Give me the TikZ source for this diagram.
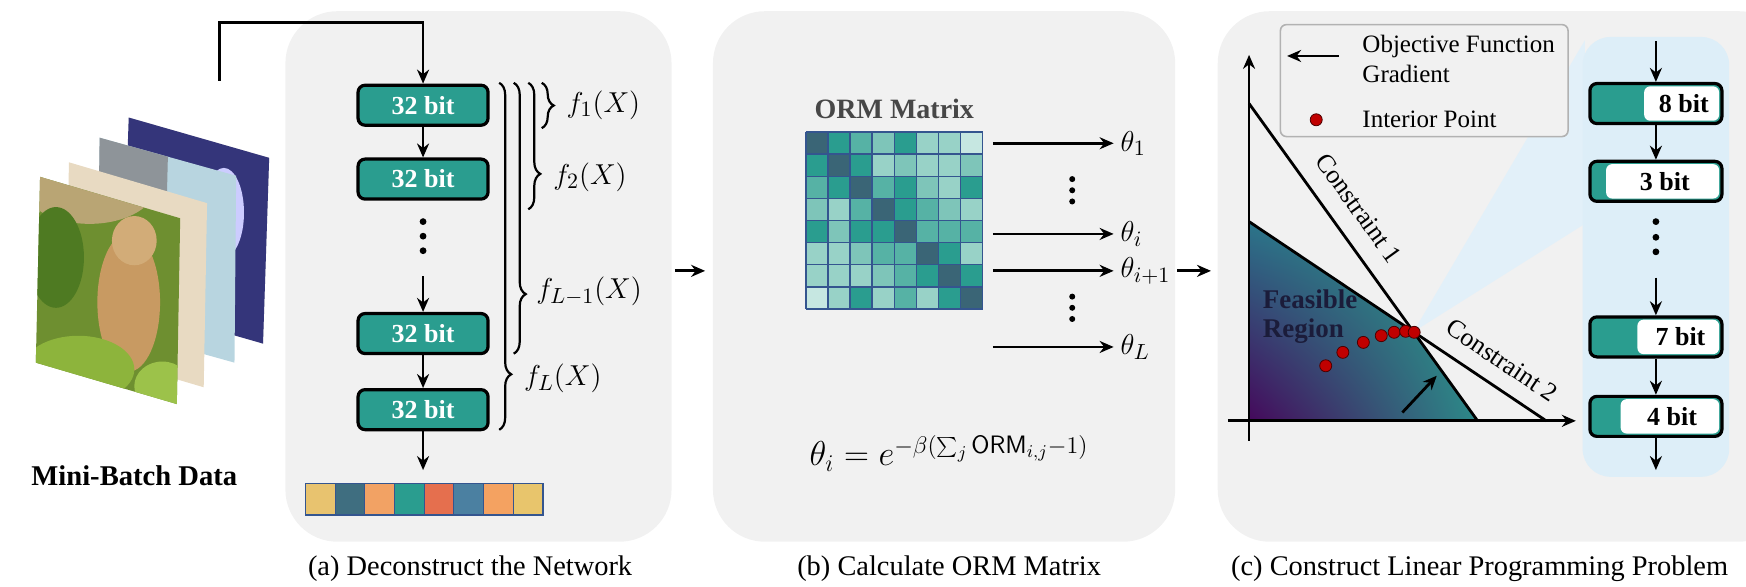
\documentclass[tikz,border=0pt]{standalone}
\usepackage{fontspec}
\setmainfont{Liberation Serif}[BoldFont={Liberation Serif Bold},ItalicFont={Liberation Serif Italic}]
\usetikzlibrary{arrows.meta,decorations.pathreplacing,calc,shadings}
\definecolor{panel}{HTML}{F1F1F1}
\definecolor{tealb}{HTML}{2A9D8F}
\definecolor{mD}{HTML}{3A6576}
\definecolor{mT}{HTML}{2A9D8F}
\definecolor{mM}{HTML}{56B2A5}
\definecolor{mL}{HTML}{7EC5B9}
\definecolor{mP}{HTML}{98D2C7}
\definecolor{mW}{HTML}{C6E7E1}
\definecolor{mline}{HTML}{34558F}
\definecolor{stripblue}{HTML}{DDEEF8}
\definecolor{wedgeblue}{HTML}{E2F0F9}
\definecolor{dotred}{HTML}{C00000}
\definecolor{vlow}{HTML}{45085B}
\definecolor{vul}{HTML}{2A7A8C}
\definecolor{vlr}{HTML}{2C8C8A}
\definecolor{vhigh}{HTML}{27A589}
\definecolor{frtext}{HTML}{1B1C3A}
\definecolor{imA}{HTML}{34357A}
\definecolor{imB}{HTML}{B8D5E0}
\definecolor{imBg}{HTML}{8E9499}
\definecolor{imC}{HTML}{E8DAC2}
\definecolor{imD}{HTML}{6E8F30}
\definecolor{imE}{HTML}{B9A574}
\definecolor{imF}{HTML}{4E7A22}
\definecolor{imG}{HTML}{C89A62}
\definecolor{imH}{HTML}{D2AC78}
\definecolor{imI}{HTML}{8DB43C}
\definecolor{imJ}{HTML}{9CC24A}
\tikzset{
  panelbg/.style={fill=panel, rounded corners=26pt},
  arr/.style={line width=1.4pt, -{Stealth[length=7pt,width=6pt]}},
  ln/.style={line width=1.4pt},
  blk/.style={draw=black, line width=1.6pt, fill=tealb, rounded corners=3.5pt, minimum width=65pt, minimum height=20pt, text=white, font=\bfseries\fontsize{13}{13}\selectfont, inner sep=0pt},
  cblk/.style={draw=black, line width=1.6pt, fill=tealb, rounded corners=3.5pt, minimum width=66pt, minimum height=20pt, inner sep=0pt},
  btxt/.style={font=\bfseries\fontsize{13}{13}\selectfont, text=black},
  captxt/.style={font=\fontsize{14.2}{14.2}\selectfont},
  mlab/.style={font=\fontsize{15}{15}\selectfont, anchor=west},
  brc/.style={decorate, line width=1.1pt, decoration={brace, amplitude=6pt, aspect=#1}},
  rdot/.style={circle, fill=dotred, draw=black!70!red, line width=0.4pt, minimum size=6pt, inner sep=0pt},
}
\begin{document}
\begin{tikzpicture}[x=0.5596pt,y=-0.5596pt]
\useasboundingbox (0,0) rectangle (1560,524);
% panels
\fill[panelbg] (255,10) rectangle (600,484);
\fill[panelbg] (637,10) rectangle (1050,484);
\fill[panelbg] (1088,10) rectangle (1600,484);
\node[captxt] (capa) at (420,508) {(a) Deconstruct the Network};
\node[captxt] (capb) at (848,508) {(b) Calculate ORM Matrix};
\node[captxt] (capc) at (1322,508) {(c) Construct Linear Programming Problem};

% mini-batch images
\fill[black!15] (240.5,141)--(235,307)--(120,271)--(115,105)--cycle;
\fill[imA] (115,105)--(240.5,141)--(235,307)--(109.5,271)--cycle;
\fill[white!80!blue] (200,190) ellipse (18 and 40);
\fill[imB] (89,123)--(211,157)--(209.5,324)--(87.5,290)--cycle;
\fill[imBg] (89,123)--(150,140)--(148,220)--(88,200)--cycle;
\fill[imC] (61.6,145)--(185,181.5)--(182,346)--(58.6,309.5)--cycle;
\begin{scope}
\clip (35.8,158)--(161,195)--(158,361)--(32,324)--cycle;
\fill[imD] (30,150) rectangle (165,365);
\fill[imE] (80,165) ellipse (60 and 35);
\fill[imF] (50,230) ellipse (25 and 45);
\fill[imG] (115,270) ellipse (28 and 62);
\fill[imH] (120,215) ellipse (20 and 22);
\fill[imI] (70,330) ellipse (50 and 30);
\fill[imJ] (145,345) ellipse (25 and 22);
\end{scope}
\node[font=\bfseries\fontsize{14.3}{14.3}\selectfont] (mb) at (120,425) {Mini-Batch Data};

% panel a
\node[blk] (a1) at (378,94) {32 bit};
\node[blk] (a2) at (378,160) {32 bit};
\node[blk] (a3) at (378,298) {32 bit};
\node[blk] (a4) at (378,366) {32 bit};
\coordinate (src) at (196,72);
\coordinate (bend1) at (196,20);
\draw[arr] (src) -- (bend1) -| (a1.north);
\draw[arr] (a1) -- (a2);
\foreach \yy in {198,211,224} \fill (378,\yy) circle (1.7pt);
\coordinate (a3in) at (378,247);
\draw[arr] (a3in) -- (a3);
\draw[arr] (a3) -- (a4);
\coordinate (aout) at (378,420);
\draw[arr] (a4) -- (aout);
\foreach \c [count=\k] in {E8C36F,3F6E80,F2A264,2A9D8F,E56F4E,4B80A1,F4A261,E8C56C}{
  \definecolor{tmpc}{HTML}{\c}
  \fill[tmpc] (273+26.5*\k-26.5,432) rectangle (273+26.5*\k,460);}
\draw[mline, line width=0.8pt] (273,432) rectangle (485,460);
\foreach \k in {1,...,7} \draw[mline, line width=0.6pt] (273+26.5*\k,432) -- (273+26.5*\k,460);
% braces
\draw[brc=0.5] (484,74) -- (484,114.5);
\draw[brc=0.72] (472,74) -- (472,187);
\draw[brc=0.78] (459,74) -- (459,316);
\draw[brc=0.84] (446,74) -- (446,384);
\node[mlab] (f1) at (500,94) {$f_1(X)$};
\node[mlab] (f2) at (488,158) {$f_2(X)$};
\node[mlab] (fl1) at (473,260) {$f_{L-1}(X)$};
\node[mlab] (fl) at (462,338) {$f_L(X)$};

% a -> b
\coordinate (ab1) at (603,242);
\coordinate (ab2) at (630,242);
\draw[arr] (ab1) -- (ab2);

% panel b
\node[font=\bfseries\fontsize{14}{14}\selectfont, text=black!72] (ormt) at (799,97) {ORM Matrix};
\node[minimum width=88.4pt, minimum height=88.4pt, inner sep=0pt] (orm) at (799,197) {};
\foreach \row [count=\r] in {
 {D,T,M,L,T,P,P,W},{T,D,T,P,L,P,P,L},{M,T,D,M,T,L,P,T},{L,P,M,D,T,M,L,P},
 {T,L,T,T,D,M,M,M},{P,P,L,M,M,D,T,P},{P,P,P,L,M,T,D,T},{W,P,T,P,M,P,T,D}}
 { \foreach \c [count=\k] in \row
   \fill[m\c] (720+19.75*\k-19.75,118+19.75*\r-19.75) rectangle +(19.75,19.75); }
\foreach \k in {0,...,8} {
  \draw[mline, line width=0.7pt] (720+19.75*\k,118) -- (720+19.75*\k,276);
  \draw[mline, line width=0.7pt] (720,118+19.75*\k) -- (878,118+19.75*\k); }
\node[mlab] (t1) at (995,128) {$\theta_1$};
\node[mlab] (ti) at (995,209) {$\theta_i$};
\node[mlab] (ti1) at (995,242) {$\theta_{i+1}$};
\node[mlab] (tl) at (995,310) {$\theta_L$};
\foreach \t in {t1,ti,ti1,tl} \draw[arr] (887,0 |- \t.west) -- (\t.west);
\foreach \yy in {160,170,180,265,275,285} \fill (958,\yy) circle (1.5pt);
\node[font=\fontsize{18}{18}\selectfont] (form) at (848,405) {$\theta_i = e^{-\beta(\sum_j \mathsf{ORM}_{i,j}-1)}$};

% b -> c
\draw[arr] (ti1.east) -- (1082,0 |- ti1.east);

% panel c: wedge, strip
\coordinate (X) at (1262.9,296.4);
\fill[wedgeblue] (X) -- (1416,36) -- (1416,200) -- cycle;
\fill[stripblue, rounded corners=14pt] (1414,33) rectangle (1545,426);
% legend
\draw[fill=panel, draw=black!30, line width=0.8pt, rounded corners=3pt] (1144,22) rectangle (1401,122);
\coordinate (lg1) at (1196,50);
\coordinate (lg2) at (1150,50);
\draw[arr] (lg1) -- (lg2);
\node[anchor=west, font=\fontsize{12.5}{15}\selectfont, align=left] (lgt) at (1211,53) {Objective Function\\Gradient};
\node[rdot] (lgd) at (1176,107) {};
\node[anchor=west, font=\fontsize{12.5}{12.5}\selectfont] (lgt2) at (1211,107) {Interior Point};
% feasible region
\begin{scope}
\clip (1116,198) -- (X) -- (1320.2,376) -- (1116,376) -- cycle;
\shade[lower left=vlow, upper right=vhigh, upper left=vul, lower right=vlr] (1116,190) rectangle (1325,376);
\end{scope}
\draw[ln] (1116,92.5) -- (1320.2,376);
\draw[ln] (1116,198) -- (1381.5,376);
\draw[arr] (1116,394) -- (1116,49);
\draw[arr] (1097,376) -- (1408,376);
\node[font=\bfseries\fontsize{13.5}{14.5}\selectfont, text=frtext, anchor=west, align=left] (fr) at (1122,283) {Feasible\\Region};
\node[rotate=-54.2, font=\fontsize{13}{13}\selectfont] (c1l) at (1214,186) {Constraint 1};
\node[rotate=-33.8, font=\fontsize{13}{13}\selectfont] (c2l) at (1342,322) {Constraint 2};
\foreach \p in {(1184.5,326.8),(1199.8,314.8),(1218.1,305.9),(1234.1,299.9),(1245.6,296.9),(1255.9,296),(1263.5,296.9)}
  \node[rdot] at \p {};
\draw[arr] (1253,368.5) -- (1283.7,335.7);
% strip blocks
\node[cblk] (c8) at (1479.5,92.5) {};
\node[cblk] (c3) at (1479.5,162) {};
\node[cblk] (c7) at (1479.5,301) {};
\node[cblk] (c4) at (1479.5,372) {};
\foreach \n/\ws/\t in {c8/1469/8 bit,c3/1435/3 bit,c7/1463/7 bit,c4/1448/4 bit} {
  \fill[white, rounded corners=3pt] ([yshift=-2.2pt]\ws,0 |- \n.north) rectangle ([xshift=-2.2pt,yshift=2.2pt]\n.south east);
  \node[btxt] at ($(\ws,0 |- \n.center)!0.5!(\n.east)$) {\t};
}
\coordinate (cin) at (1479.5,37);
\draw[arr] (cin) -- (c8);
\draw[arr] (c8) -- (c3);
\foreach \yy in {198,212,225} \fill (1479.5,\yy) circle (1.7pt);
\coordinate (c7in) at (1479.5,248);
\draw[arr] (c7in) -- (c7);
\draw[arr] (c7) -- (c4);
\coordinate (cout) at (1479.5,420);
\draw[arr] (c4) -- (cout);
\end{tikzpicture}
\end{document}
